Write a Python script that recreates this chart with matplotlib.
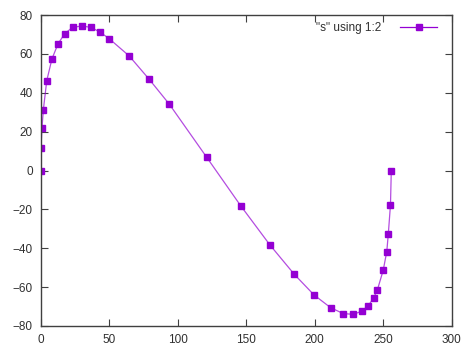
import matplotlib
matplotlib.use("Agg")
from matplotlib import pyplot as plt

# data
xs = [0, 0, 0.7, 1.7, 4.2, 8.0, 12.4, 17.3, 23.2, 29.7, 36.3, 42.9, 49.7,
      64.5, 79.1, 93.8, 121.1, 145.9, 167.3, 185.1, 199.5, 211.7, 220.9,
      228.2, 234.4, 239.2, 243.0, 245.8, 250.1, 252.7, 253.8, 255.4, 256.0]
ys = [0, 11.6, 21.7, 31.1, 46.2, 57.4, 65.1, 70.4, 73.7, 74.3, 73.7, 71.3, 67.9,
      58.9, 46.9, 34.1, 6.8, -18.1, -38.3, -53.4, -64.0, -70.6, -73.6,
      -74.0, -72.4, -69.6, -65.6, -61.5, -51.3, -41.7, -32.8, -17.7, 0]
xticks = [0, 50, 100, 150, 200, 250, 300]
yticks = [-80, -60, -40, -20, 0, 20, 40, 60, 80]
label = '"s" using 1:2'

plt.rcParams["font.family"] = ["Liberation Sans", "DejaVu Sans"]
fig = plt.figure(figsize=(4.74, 3.55), dpi=100)
ax = fig.add_axes([41 / 474, 29 / 355, 410.5 / 474, 311 / 355])

line_color = "#9400d3"
axis_color = "#404040"

ax.plot(xs, ys, color=line_color, lw=0.9, alpha=0.7)
ax.plot(xs, ys, ls="none", marker="s", ms=4.0, color=line_color, mec=line_color)
# legend proxy: line with one marker in the middle
h, = ax.plot([], [], color=line_color, lw=0.9, marker="s", ms=4.0,
             markevery=[0], label=label)

ax.set_xlim(0, 300)
ax.set_ylim(-80, 80)
ax.set_xticks(xticks)
ax.set_yticks(yticks)

for s in ax.spines.values():
    s.set_color(axis_color)
    s.set_linewidth(1.0)
ax.tick_params(direction="in", length=5, width=0.8, color=axis_color,
               labelcolor="#303030", labelsize=8.5, top=True, right=True, pad=6)

ax.legend(handles=[h], loc="upper right", frameon=False, markerfirst=False,
          fontsize=8.5, handlelength=3.1, handletextpad=1.6,
          borderpad=0, borderaxespad=0,
          bbox_to_anchor=((437 - 41) / 410.5, (326 - 22) / 311),
          labelcolor="#303030")

fig.savefig("out.png", dpi=100)
